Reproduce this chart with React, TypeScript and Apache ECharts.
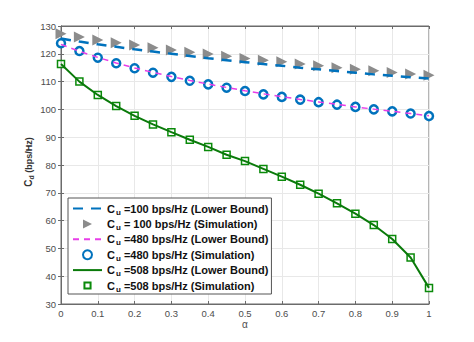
import React, { useEffect, useRef } from "react";
import * as echarts from "echarts";

const alpha = [0, 0.05, 0.1, 0.15, 0.2, 0.25, 0.3, 0.35, 0.4, 0.45, 0.5, 0.55, 0.6, 0.65, 0.7, 0.75, 0.8, 0.85, 0.9, 0.95, 1];
const lb100 = [125.5, 124.4, 123.4, 122.5, 121.6, 120.8, 120.0, 119.2, 118.4, 117.7, 117.0, 116.3, 115.7, 115.0, 114.4, 113.8, 113.2, 112.6, 112.1, 111.6, 111.1];
const sim100 = [127.2, 126.0, 125.0, 124.0, 123.2, 122.2, 121.4, 120.6, 119.9, 119.1, 118.3, 117.7, 117.1, 116.3, 115.7, 115.0, 114.4, 113.9, 113.3, 112.7, 112.3];
const lb480 = [123.4, 120.9, 118.7, 116.7, 114.9, 113.3, 111.8, 110.4, 109.1, 107.9, 106.7, 105.6, 104.6, 103.6, 102.7, 101.8, 100.9, 100.1, 99.3, 98.5, 97.7];
const sim480 = [123.8, 121.0, 118.6, 116.6, 114.8, 113.2, 111.7, 110.3, 109.0, 107.8, 106.6, 105.4, 104.5, 103.5, 102.6, 101.7, 100.9, 100.0, 99.3, 98.5, 97.6];
const lb508 = [116.3, 110.0, 105.2, 101.2, 97.7, 94.6, 91.8, 89.1, 86.5, 83.7, 81.4, 78.6, 75.8, 72.9, 69.7, 66.2, 62.5, 58.4, 53.4, 46.7, 35.8];
const sim508 = [116.3, 110.0, 105.2, 101.2, 97.7, 94.6, 91.8, 89.1, 86.5, 83.7, 81.4, 78.6, 75.8, 72.9, 69.7, 66.2, 62.5, 58.4, 53.4, 46.7, 35.8];

const seriesNames = [
  "=100 bps/Hz (Lower Bound)",
  "= 100 bps/Hz (Simulation)",
  "=480 bps/Hz (Lower Bound)",
  "=480 bps/Hz (Simulation)",
  "=508 bps/Hz (Lower Bound)",
  "=508 bps/Hz (Simulation)",
];

const pairs = (ys: number[]) => alpha.map((a, i) => [a, ys[i]]);

const TRI = "path://M0,0 L10,5 L0,10 Z";
const SQ_ICON = "path://M0,0 M10,10 M1.6,1.6 L8.4,1.6 L8.4,8.4 L1.6,8.4 Z";
const HIDE = { color: "transparent", borderWidth: 0, opacity: 0 };

export default function App() {
  const ref = useRef<HTMLDivElement>(null);
  useEffect(() => {
    if (!ref.current) return;
    const chart = echarts.init(ref.current, null, { renderer: "svg" });
    const font = "Liberation Sans";
    const tickColor = "#4d4d4d";
    chart.setOption({
      animation: false,
      backgroundColor: "#fff",
      grid: { left: 61, right: 45, top: 26, bottom: 38, show: true, borderColor: "#6b6b6b", borderWidth: 1 },
      xAxis: [
        {
          type: "value", min: 0, max: 1, interval: 0.1,
          name: "α", nameLocation: "middle", nameGap: 15, nameMoveOverlap: false,
          nameTextStyle: { fontFamily: font, fontSize: 10, color: tickColor },
          axisLine: { show: true, lineStyle: { color: "#6b6b6b" } },
          axisTick: { inside: true, length: 3, lineStyle: { color: "#6b6b6b" } },
          axisLabel: { fontFamily: font, fontSize: 9.5, color: tickColor, margin: 4 },
          splitLine: { show: true, lineStyle: { color: "#e8e8e8" } },
        },
        {
          type: "value", min: 0, max: 1, interval: 0.1, position: "top",
          axisLine: { show: true, lineStyle: { color: "#6b6b6b" } },
          axisTick: { inside: true, length: 3, lineStyle: { color: "#6b6b6b" } },
          axisLabel: { show: false }, splitLine: { show: false },
        },
      ],
      yAxis: [
        {
          type: "value", min: 30, max: 130, interval: 10,
          name: "{c|C}{d|d}{t| (bps/Hz)}", nameLocation: "middle", nameGap: 26, nameRotate: 90,
          nameMoveOverlap: false,
          nameTextStyle: {
            fontFamily: font, color: "#333", padding: [0, 0, 0, 6],
            rich: {
              c: { fontFamily: font, fontSize: 10, fontWeight: "bold", color: "#333" },
              d: { fontFamily: font, fontSize: 7, fontWeight: "bold", color: "#333", padding: [6, 0, 0, 0] },
              t: { fontFamily: font, fontSize: 9, fontWeight: "bold", color: "#333" },
            },
          },
          axisLine: { show: true, lineStyle: { color: "#6b6b6b" } },
          axisTick: { inside: true, length: 3, lineStyle: { color: "#6b6b6b" } },
          axisLabel: { fontFamily: font, fontSize: 9.5, color: tickColor, margin: 5 },
          splitLine: { show: true, lineStyle: { color: "#e8e8e8" } },
        },
        {
          type: "value", min: 30, max: 130, interval: 10, position: "right",
          axisLine: { show: true, lineStyle: { color: "#6b6b6b" } },
          axisTick: { inside: true, length: 3, lineStyle: { color: "#6b6b6b" } },
          axisLabel: { show: false }, splitLine: { show: false },
        },
      ],
      legend: {
        orient: "vertical", left: 68, top: 198,
        backgroundColor: "#fff", borderColor: "#555", borderWidth: 1,
        padding: [5, 3, 1, 4], itemGap: 2.4, itemWidth: 29, itemHeight: 9,
        data: [
          { name: seriesNames[0], itemStyle: HIDE },
          { name: seriesNames[1], icon: TRI },
          { name: seriesNames[2], itemStyle: HIDE },
          { name: seriesNames[3], icon: "circle" },
          { name: seriesNames[4], itemStyle: HIDE },
          { name: seriesNames[5], icon: SQ_ICON },
        ],
        formatter: (n: string) => `{c|C}{u|u}{t|\u00a0${n}}`,
        textStyle: {
          fontFamily: font, fontWeight: "bold", color: "#111",
          rich: {
            c: { fontFamily: font, fontSize: 11, fontWeight: "bold", color: "#111" },
            u: { fontFamily: font, fontSize: 8, fontWeight: "bold", color: "#111", padding: [7, 0, 0, 1] },
            t: { fontFamily: font, fontSize: 11, fontWeight: "bold", color: "#111" },
          },
        },
      },
      series: [
        {
          name: seriesNames[0], type: "line", data: pairs(lb100), symbol: "none",
          lineStyle: { color: "#0072BD", width: 2.5, type: [10, 8] }, itemStyle: { color: "#0072BD" },
        },
        {
          name: seriesNames[1], type: "scatter", data: pairs(sim100),
          symbol: TRI, symbolSize: [11, 11],
          itemStyle: { color: "#8c8c8c", opacity: 1 },
        },
        {
          name: seriesNames[2], type: "line", data: pairs(lb480), symbol: "none",
          lineStyle: { color: "#e83ee8", width: 1.5, type: [6, 5] }, itemStyle: { color: "#e83ee8" },
        },
        {
          name: seriesNames[3], type: "scatter", data: pairs(sim480),
          symbol: "circle", symbolSize: 8,
          itemStyle: { color: "#fff", borderColor: "#0072BD", borderWidth: 2.5, opacity: 1 },
        },
        {
          name: seriesNames[4], type: "line", data: pairs(lb508), symbol: "none",
          lineStyle: { color: "#0a7a0a", width: 2 }, itemStyle: { color: "#0a7a0a" },
        },
        {
          name: seriesNames[5], type: "scatter", data: pairs(sim508),
          symbol: "rect", symbolSize: 7,
          itemStyle: { color: "rgba(255,255,255,0.6)", borderColor: "#0a8a0a", borderWidth: 1.5, opacity: 1 },
        },
      ],
    });
    return () => chart.dispose();
  }, []);
  return <div ref={ref} style={{ position: "fixed", left: 0, top: 0, width: 474, height: 342, background: "#fff" }} />;
}
